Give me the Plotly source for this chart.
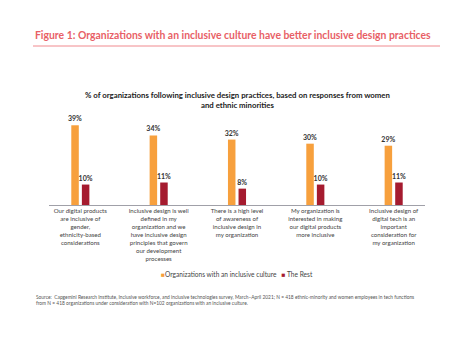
import plotly.graph_objects as go

# Survey statements (x categories)
categories = [
    "Our digital products<br>are inclusive of<br>gender,<br>ethnicity-based<br>considerations",
    "Inclusive design is well<br>defined in my<br>organization and we<br>have inclusive design<br>principles that govern<br>our development<br>processes",
    "There is a high level<br>of awareness of<br>inclusive design in<br>my organization",
    "My organization is<br>interested in making<br>our digital products<br>more inclusive",
    "Inclusive design of<br>digital tech is an<br>important<br>consideration for<br>my organization",
]

# Share of organizations (%)
inclusive_culture = [39, 34, 32, 30, 29]
the_rest = [10, 11, 8, 10, 11]

series_names = ["Organizations with an inclusive culture", "The Rest"]
colors = ["#f7a03d", "#a51b2f"]

W, H = 474, 338
ML, MR, MT, MB = 49, 49, 113, 133
PW, PH = W - ML - MR, H - MT - MB


def px_x(x):
    return (x - ML) / PW


def px_y(y):
    return (H - MB - y) / PH


FONT = "Lato"

fig = go.Figure()
for name, vals, col in zip(series_names, [inclusive_culture, the_rest], colors):
    fig.add_trace(go.Bar(
        x=list(range(len(categories))),
        y=vals,
        name=name,
        marker=dict(color=col, line=dict(width=0)),
        text=[f"{v}%" for v in vals],
        textposition="outside",
        constraintext="none",
        textfont=dict(family=FONT, size=7, color="#333333", weight="bold"),
        cliponaxis=False,
        showlegend=False,
    ))

fig.update_layout(
    width=W, height=H,
    margin=dict(l=ML, r=MR, t=MT, b=MB),
    paper_bgcolor="white", plot_bgcolor="white",
    barmode="group", bargap=0.73, bargroupgap=0.29,
    font=dict(family=FONT, color="#444444"),
    xaxis=dict(
        range=[-0.4, 4.4],
        tickmode="array", tickvals=list(range(len(categories))), ticktext=categories,
        tickfont=dict(family=FONT, size=6.1, color="#444444"),
        showline=True, linecolor="#a0a0a8", linewidth=1,
        showgrid=False, ticks="", zeroline=False,
    ),
    yaxis=dict(range=[0, 45], visible=False, showgrid=False, zeroline=False),
)

annotations = [
    dict(text="Figure 1: Organizations with an inclusive culture have better inclusive design practices",
         x=px_x(33), y=px_y(35), xanchor="left", yanchor="middle",
         font=dict(family=FONT, size=10.4, color="#e85f66", weight="bold")),
    dict(text="% of organizations following inclusive design practices, based on responses from women<br>and ethnic minorities",
         x=px_x(237), y=px_y(100), xanchor="center", yanchor="middle",
         font=dict(family=FONT, size=7.8, color="#222222", weight="bold")),
    dict(text=f'<span style="color:{colors[0]}">■</span>{series_names[0]}   '
              f'<span style="color:{colors[1]}">■</span> {series_names[1]}',
         x=px_x(237), y=px_y(274), xanchor="center", yanchor="middle",
         font=dict(family=FONT, size=6.6, color="#444444")),
    dict(text="Source:  Capgemini Research Institute, Inclusive workforce, and inclusive technologies survey, March–April 2021; "
              "N = 418 ethnic-minority and women employees in tech functions<br>"
              "from N = 418 organizations under consideration with N=102 organizations with an inclusive culture.",
         x=px_x(34), y=px_y(299.5), xanchor="left", yanchor="middle", align="left",
         font=dict(family=FONT, size=4.85, color="#555555")),
]
for a in annotations:
    a.update(xref="paper", yref="paper", showarrow=False)
fig.update_layout(annotations=annotations)

fig.add_shape(type="line", xref="paper", yref="paper",
              x0=px_x(33), x1=px_x(440), y0=px_y(46), y1=px_y(46),
              line=dict(color="#f08a8f", width=1))

fig.write_html("out.html")
